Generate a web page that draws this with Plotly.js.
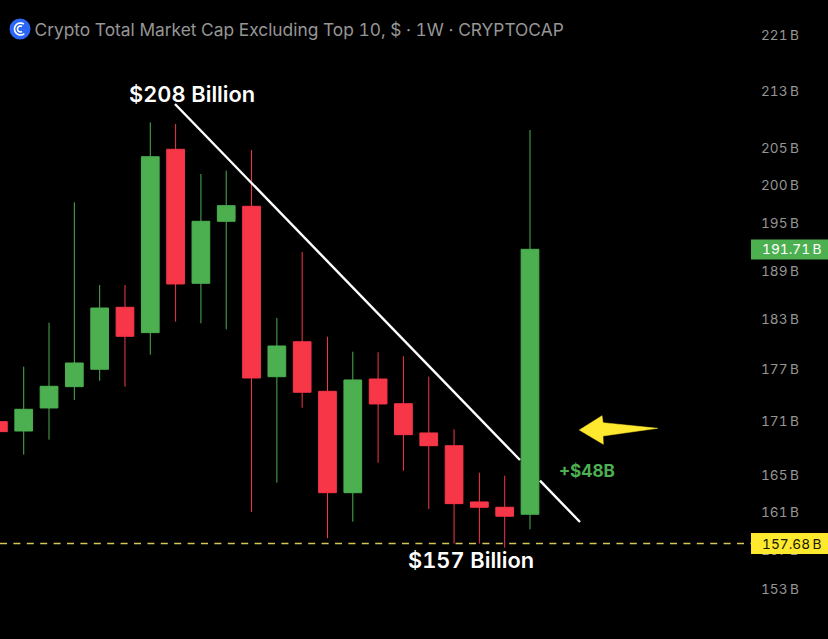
<!DOCTYPE html>
<html>
<head>
<meta charset="utf-8">
<script src="https://cdn.plot.ly/plotly-3.0.1.min.js"></script>
<style>html,body{margin:0;padding:0;background:#000;overflow:hidden}#chart{width:828px;height:639px}
svg text{font-variant-numeric:tabular-nums;font-feature-settings:"tnum" 1}</style>
</head>
<body>
<div id="chart"></div>
<script>
var weeks = [0,1,2,3,4,5,6,7,8,9,10,11,12,13,14,15,16,17,18,19,20,21];
var opens = [170.98,169.92,172.54,175.00,177.03,184.47,181.39,204.88,187.43,195.31,197.27,176.16,180.30,174.46,163.10,175.89,173.03,169.70,168.27,162.10,161.53,160.78];
var highs = [171.60,177.34,182.59,197.79,187.22,187.22,208.58,208.35,201.55,201.99,204.78,183.17,191.37,180.90,179.11,179.04,178.57,176.16,170.12,165.28,164.95,207.52];
var lows = [169.20,167.27,168.95,173.46,175.69,175.00,178.75,182.72,182.52,181.79,161.03,164.19,172.57,158.24,159.99,166.38,165.50,161.35,157.68,157.68,157.25,159.19];
var closes = [169.85,172.39,175.04,177.77,184.38,180.95,203.87,187.35,195.31,197.35,176.01,179.79,174.35,163.10,175.78,173.00,169.51,168.27,161.92,161.53,160.57,191.71];

var priceTicks = [153,157,161,165,171,177,183,189,195,200,205,213,221];
var priceTickLabels = ["153\u2009B","157\u2009B","161\u2009B","165\u2009B","171\u2009B","177\u2009B","183\u2009B","189\u2009B","195\u2009B","200\u2009B","205\u2009B","213\u2009B","221\u2009B"];

var trendX = [6.976,20.604,null,21.394,22.974];
var trendY = [211.13,166.68,null,164.41,159.96];

var lowLevel = 157.68;
var lastClose = 191.71;

var W = 828, H = 639, PLOTW = 751;
function px(x){return x/PLOTW;}
function py(y){return 1-y/H;}
function pth(pts){
  return 'M'+pts.map(function(p){return px(p[0])+','+py(p[1]);}).join(' L')+' Z';
}
function arcPath(cx,cy,r,a0,a1){
  var s='';
  for(var a=a0,k=0;a<=a1+0.01;a+=15,k++){
    var t=a*Math.PI/180;
    s+=(k?' L':'M')+px(cx+r*Math.cos(t))+','+py(cy+r*Math.sin(t));
  }
  return s;
}

var uiFont = 'Inter, "Open Sans", sans-serif';
var GREEN = '#4CAF50', RED = '#F73648', YELLOW = '#FFE92E';

var traces = [
  {
    type:'candlestick', x:weeks, open:opens, high:highs, low:lows, close:closes,
    increasing:{line:{color:GREEN,width:1},fillcolor:GREEN},
    decreasing:{line:{color:RED,width:1},fillcolor:RED},
    whiskerwidth:0, hoverinfo:'skip', showlegend:false
  },
  {
    type:'scatter', mode:'lines', x:trendX, y:trendY, connectgaps:false,
    line:{color:'#ffffff',width:2.4}, hoverinfo:'skip', showlegend:false
  }
];

var layout = {
  width:W, height:H,
  paper_bgcolor:'#000000', plot_bgcolor:'#000000',
  margin:{l:0,r:W-PLOTW,t:0,b:0,pad:0},
  boxgap:0,
  showlegend:false,
  title:{
    text:'Crypto Total Market Cap Excluding Top 10, $ \u00b7 1W \u00b7 CRYPTOCAP',
    xref:'container', yref:'container', x:34.5/W, xanchor:'left', y:1-29.5/H, yanchor:'middle',
    font:{family:uiFont,size:17.34,color:'#969696'}
  },
  xaxis:{
    range:[0.0632,29.73], showgrid:false, zeroline:false, showticklabels:false,
    ticks:'', showline:false, rangeslider:{visible:false}, fixedrange:true
  },
  yaxis:{
    type:'log', range:[2.17026,2.35455], side:'right',
    tickmode:'array', tickvals:priceTicks, ticktext:priceTickLabels,
    showgrid:false, zeroline:false, showline:false, ticks:'',
    ticklabelstandoff:9,
    tickfont:{family:uiFont,size:13.6,color:'#959595'}, fixedrange:true
  },
  shapes:[
    {type:'line',xref:'paper',yref:'y',x0:0,x1:1,y0:lowLevel,y1:lowLevel,layer:'above',
      line:{color:'#D6C655',width:1.5,dash:'7px,6.4px'}},
    {type:'rect',xref:'paper',yref:'paper',x0:px(751),x1:px(828),y0:py(533),y1:py(554),layer:'above',
      fillcolor:YELLOW,line:{width:0}},
    {type:'rect',xref:'paper',yref:'paper',x0:px(751),x1:px(828),y0:py(239.5),y1:py(259.5),layer:'above',
      fillcolor:GREEN,line:{width:0}},
    {type:'path',xref:'paper',yref:'paper',layer:'above',fillcolor:YELLOW,line:{color:YELLOW,width:0.5},
      path:pth([[579.3,430],[602,415.7],[603,422.7],[657.7,428.3],[603,436],[603.3,444.3]])},
    {type:'circle',xref:'paper',yref:'paper',x0:px(9.5),x1:px(30.5),y0:py(18.5),y1:py(39.5),layer:'above',
      fillcolor:'#2B66F6',line:{width:0}},
    {type:'path',xref:'paper',yref:'paper',layer:'above',line:{color:'#ffffff',width:1.6},
      path:arcPath(20.5,29,6,50,310)},
    {type:'path',xref:'paper',yref:'paper',layer:'above',line:{color:'#ffffff',width:1.6},
      path:arcPath(20.5,29,3,60,300)}
  ],
  annotations:[
    {text:'$208 Billion',xref:'paper',yref:'paper',x:px(192),y:py(93.5),xanchor:'center',yanchor:'middle',showarrow:false,
      font:{family:uiFont,size:21.8,color:'#ffffff',weight:600}},
    {text:'$157 Billion',xref:'paper',yref:'paper',x:px(470.5),y:py(560),xanchor:'center',yanchor:'middle',showarrow:false,
      font:{family:uiFont,size:21.8,color:'#ffffff',weight:600}},
    {text:'+$48B',xref:'paper',yref:'paper',x:px(586.5),y:py(470.5),xanchor:'center',yanchor:'middle',showarrow:false,
      font:{family:uiFont,size:17.2,color:GREEN,weight:700}},
    {text:'157.68\u2009B',xref:'paper',yref:'paper',x:px(762),y:py(544),xanchor:'left',yanchor:'middle',showarrow:false,
      xshift:-2,font:{family:uiFont,size:13.7,color:'#1a1a00'}},
    {text:'191.71\u2009B',xref:'paper',yref:'paper',x:px(762),y:py(249.5),xanchor:'left',yanchor:'middle',showarrow:false,
      xshift:-2,font:{family:uiFont,size:13.7,color:'#ffffff'}}
  ]
};

Plotly.newPlot('chart',traces,layout,{displayModeBar:false,staticPlot:true});
</script>
</body>
</html>
